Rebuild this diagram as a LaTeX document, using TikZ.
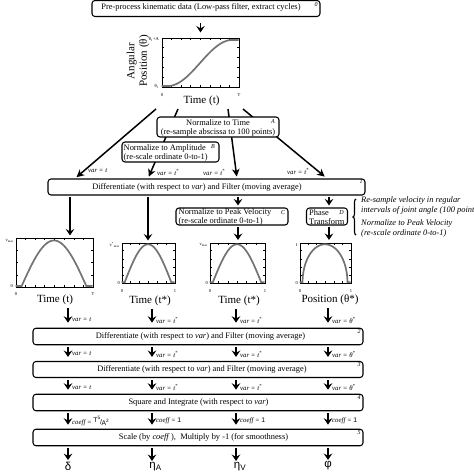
\documentclass[tikz,border=0pt]{standalone}
\usepackage{fontspec}
\setmainfont{Liberation Serif}
\newfontfamily\grsans{Liberation Sans}
\usetikzlibrary{arrows.meta,calc,decorations.pathreplacing}

\tikzset{
  procbox/.style={draw, line width=1.05pt, rounded corners=3pt, fill=white, inner sep=0pt},
  btext/.style={font=\fontsize{8.4}{9}\selectfont, inner sep=0pt},
  tagst/.style={font=\fontsize{6}{6}\selectfont\itshape, inner sep=0pt},
  bigarrow/.style={line width=1.9pt, -{Stealth[length=6.5pt,width=8.5pt,inset=2.4pt]}},
  diagarrow/.style={line width=1.5pt, -{Stealth[length=7.5pt,width=7.5pt,inset=2.2pt]}},
  varlab/.style={font=\fontsize{6.8}{7}\selectfont\itshape, anchor=west, inner sep=0pt},
  plotframe/.style={draw, line width=1pt, inner sep=0pt},
  tickst/.style={line width=0.75pt},
  curvest/.style={draw=black!55, line width=1.7pt},
  ticklab/.style={font=\fontsize{4.5}{5}\selectfont, inner sep=0pt},
  axlab/.style={font=\fontsize{11}{12}\selectfont, inner sep=0pt},
  bracetext/.style={font=\fontsize{8.4}{10}\selectfont\itshape, anchor=west, align=left, inner sep=0pt},
  greek/.style={font=\grsans\fontsize{11.5}{12}\selectfont, inner sep=0pt},
}

\newcommand\myframeticks[3]{%
  \foreach \f in {#2}{%
    \draw[tickst] ($(#1.north west)!\f!(#1.north east)$) -- ++(0,2.5);
    \draw[tickst] ($(#1.south west)!\f!(#1.south east)$) -- ++(0,-2.5);}
  \foreach \f in {#3}{%
    \draw[tickst] ($(#1.north west)!\f!(#1.south west)$) -- ++(2.5,0);
    \draw[tickst] ($(#1.north east)!\f!(#1.south east)$) -- ++(-2.5,0);}
}

\begin{document}
\begin{tikzpicture}[x=1pt,y=-1pt]
\useasboundingbox (0,0) rectangle (474,474);

% column coordinates
\coordinate (c1) at (68,0);
\coordinate (c2) at (152,0);
\coordinate (c3) at (236,0);
\coordinate (c4) at (328,0);
\coordinate (u1) at (70,0);
\coordinate (u2) at (148,0);
\coordinate (u3) at (238,0);
\coordinate (u4) at (329,0);
\coordinate (e1) at (75,0);
\coordinate (e2) at (148,0);
\coordinate (e3) at (237,0);
\coordinate (e4) at (327,0);

% step 0
\node[procbox, minimum width=228pt, minimum height=16pt] (b0) at (206,8.5) {};
\node[btext] (b0t) at (201,7.5) {Pre-process kinematic data (Low-pass filter, extract cycles)};
\node[tagst] (b0g) at (316,5) {0};

% angular position plot
\node[plotframe, minimum width=77pt, minimum height=49pt] (p0) at (200.5,62.5) {};
\myframeticks{p0}{0.125,0.25,0.375,0.5,0.625,0.75,0.875}{0.2,0.4,0.6,0.8}
\begin{scope}[shift={(p0.south west)}, x=77pt, y=49pt]
  \draw[curvest] (0,0.03) -- (0.08,0.03) -- plot[domain=0.08:0.92, samples=50] (\x,{0.03+0.94*(1-cos(180*(\x-0.08)/0.84))/2}) -- (1,0.97);
\end{scope}
\node[ticklab, anchor=east] (p0l1) at (159,39.5) {θ\textsubscript{1}+A};
\node[ticklab, anchor=east] (p0l2) at (159,86) {θ\textsubscript{1}};
\node[ticklab] (p0x1) at (162,95) {0};
\node[ticklab] (p0x2) at (239,95) {T};
\node[axlab] (p0x) at (201.5,101) {Time (t)};
\node[axlab, rotate=90, align=center, font=\fontsize{11}{12.5}\selectfont] (p0y) at (138,61) {Angular\\Position (θ)};

\draw[bigarrow, shorten <=6pt, shorten >=5pt] (b0.south -| p0.north) -- (p0.north);

% step 1 box
\node[procbox, minimum width=317pt, minimum height=16pt] (b1) at (206.5,187) {};
\node[btext] (b1t) at (197,187) {Differentiate (with respect to \textit{var}) and Filter (moving average)};
\node[tagst] (b1g) at (361,182) {1};

% fan of arrows from the position curve
\coordinate (s1) at (156,109);
\coordinate (s2) at (178,109);
\coordinate (s3) at (228,109);
\coordinate (s4) at (243,109);
\draw[diagarrow, shorten >=2pt] (s1) -- (b1.north -| e1);
\draw[diagarrow, shorten >=2pt] (s2) -- (b1.north -| e2);
\draw[diagarrow, shorten >=2pt] (s3) -- (b1.north -| e3);
\draw[diagarrow, shorten >=3pt] (s4) -- (b1.north -| e4);

% box A
\node[procbox, minimum width=122pt, minimum height=20pt] (bA) at (218,127) {};
\node[btext, align=center] (bAt) at (218,127.5) {Normalize to Time\\(re-sample abscissa to 100 points)};
\node[tagst] (bAg) at (273,122) {A};

% box B
\node[procbox, minimum width=97pt, minimum height=20pt] (bB) at (170.5,152) {};
\node[btext, align=left, anchor=west] (bBt) at (123.5,152.5) {Normalize to Amplitude\\(re-scale ordinate 0-to-1)};
\node[tagst] (bBg) at (213,147) {B};

\node[varlab] (v01) at (88,171) {var = t};
\node[varlab] (v02) at (157,172) {var = t\textsuperscript{*}};
\node[varlab] (v03) at (203,172) {var = t\textsuperscript{*}};
\node[varlab] (v04) at (287,171) {var = t\textsuperscript{*}};

% box C and D
\node[procbox, minimum width=112pt, minimum height=17pt] (bC) at (232,216.5) {};
\node[btext, align=left, anchor=west] (bCt) at (178.5,217) {Normalize to Peak Velocity \\(re-scale ordinate 0-to-1)};
\node[tagst] (bCg) at (283,213) {C};
\node[procbox, minimum width=41pt, minimum height=17pt] (bD) at (327,216.5) {};
\node[btext, align=left, anchor=west] (bDt) at (309,217) {Phase\\Transform};
\node[tagst] (bDg) at (341.5,213) {D};

% brace and note
\draw[decorate, decoration={brace, amplitude=3pt}, line width=1.1pt] (356,235) -- (356,199) coordinate (brtop);
\node[bracetext] (n1) at (361,205) {Re-sample velocity in regular\\intervals of joint angle (100 points)};
\node[bracetext] (n2) at (361,228.5) {Normalize to Peak Velocity\\(re-scale ordinate 0-to-1)};

% plots row
\node[plotframe, minimum width=77pt, minimum height=49pt] (pa) at (54.5,262.5) {};
\node[plotframe, minimum width=53pt, minimum height=40pt] (pb) at (148.5,263) {};
\node[plotframe, minimum width=55pt, minimum height=40pt] (pc) at (237.5,263) {};
\node[plotframe, minimum width=51pt, minimum height=40pt] (pd) at (325.5,263) {};
\myframeticks{pa}{0.125,0.25,0.375,0.5,0.625,0.75,0.875}{0.25,0.5,0.75}
\myframeticks{pb}{0.1667,0.3333,0.5,0.6667,0.8333}{0.2,0.4,0.6,0.8}
\myframeticks{pc}{0.1667,0.3333,0.5,0.6667,0.8333}{0.2,0.4,0.6,0.8}
\myframeticks{pd}{0.1667,0.3333,0.5,0.6667,0.8333}{0.2,0.4,0.6,0.8}
\begin{scope}[shift={(pa.south west)}, x=77pt, y=49pt]
  \draw[curvest] (0,0.03) -- (0.08,0.03) -- plot[domain=0.08:0.92, samples=50] (\x,{0.03+0.93*sin(180*(\x-0.08)/0.84)}) -- (1,0.03);
\end{scope}
\begin{scope}[shift={(pb.south west)}, x=53pt, y=40pt]
  \draw[curvest] (0,0.03) -- (0.06,0.03) -- plot[domain=0.06:0.94, samples=50] (\x,{0.03+0.95*sin(180*(\x-0.06)/0.88)}) -- (1,0.03);
\end{scope}
\begin{scope}[shift={(pc.south west)}, x=55pt, y=40pt]
  \draw[curvest] (0,0.03) -- (0.06,0.03) -- plot[domain=0.06:0.94, samples=50] (\x,{0.03+0.95*sin(180*(\x-0.06)/0.88)}) -- (1,0.03);
\end{scope}
\begin{scope}[shift={(pd.south west)}, x=51pt, y=40pt]
  \draw[curvest] (0,0.03) -- (0.06,0.03) -- plot[domain=180:0, samples=60] ({0.5+0.44*cos(\x)},{0.03+0.95*sin(\x)}) -- (1,0.03);
\end{scope}

% tick labels
\node[ticklab, anchor=east] (pal1) at (14,241) {v\textsubscript{max}};
\node[ticklab, anchor=east] (pal2) at (13,286) {0};
\node[ticklab] (pax1) at (16,294) {0};
\node[ticklab] (pax2) at (93,294) {T};
\node[ticklab, anchor=east] (pbl1) at (120,245) {v\textsuperscript{*}\textsubscript{max}};
\node[ticklab, anchor=east] (pbl2) at (120,283) {0};
\node[ticklab] (pbx1) at (122,291) {0};
\node[ticklab] (pbx2) at (175,291) {1};
\node[ticklab, anchor=east] (pcl1) at (208,245) {v\textsubscript{max}};
\node[ticklab, anchor=east] (pcl2) at (208,283) {0};
\node[ticklab] (pcx1) at (210,291) {0};
\node[ticklab] (pcx2) at (265,291) {1};
\node[ticklab, anchor=east] (pdl1) at (298,245) {1};
\node[ticklab, anchor=east] (pdl2) at (298,283) {0};
\node[ticklab] (pdx1) at (300,291) {0};
\node[ticklab] (pdx2) at (351,291) {1};

\node[axlab] (xa) at (55,300) {Time (t)};
\node[axlab] (xb) at (150,301) {Time (t*)};
\node[axlab] (xc) at (239,301) {Time (t*)};
\node[axlab] (xd) at (330,300) {Position (θ*)};

% arrows into plots and boxes C, D
\draw[bigarrow, shorten <=1pt, shorten >=2pt] (b1.south -| u1) -- (pa.north -| u1);
\draw[bigarrow, shorten <=1pt, shorten >=2pt] (b1.south -| u2) -- (pb.north -| u2);
\draw[bigarrow, shorten <=1.5pt, shorten >=2pt] (b1.south -| u3) -- (bC.north -| u3);
\draw[bigarrow, shorten <=1.5pt, shorten >=2pt] (b1.south -| u4) -- (bD.north -| u4);
\draw[bigarrow, shorten <=1.5pt, shorten >=2.5pt] (bC.south -| u3) -- (pc.north -| u3);
\draw[bigarrow, shorten <=1.5pt, shorten >=2.5pt] (bD.south -| u4) -- (pd.north -| u4);

% lower boxes
\node[procbox, minimum width=330pt, minimum height=16.5pt] (b2) at (198,336.5) {};
\node[btext] (b2t) at (200.5,336.5) {Differentiate (with respect to \textit{var}) and Filter (moving average)};
\node[tagst] (b2g) at (359,332) {2};
\node[procbox, minimum width=330pt, minimum height=16pt] (b3) at (198,369.5) {};
\node[btext] (b3t) at (202,369.5) {Differentiate (with respect to \textit{var}) and Filter (moving average)};
\node[tagst] (b3g) at (359,365) {3};
\node[procbox, minimum width=330pt, minimum height=16.5pt] (b4) at (198,402.5) {};
\node[btext] (b4t) at (198.5,402.5) {Square and Integrate (with respect to \textit{var})};
\node[tagst] (b4g) at (359,398) {4};
\node[procbox, minimum width=330pt, minimum height=16.5pt] (b5) at (198,437.5) {};
\node[btext] (b5t) at (203.5,437.5) {Scale (by \textit{coeff}\,),\ \ Multiply by -1 (for smoothness)};
\node[tagst] (b5g) at (359,433) {5};

% arrows from plot labels to box 2
\draw[bigarrow, shorten <=3pt, shorten >=5pt] (xa.south -| c1) -- (b2.north -| c1);
\draw[bigarrow, shorten <=3pt, shorten >=5pt] (xb.south -| c2) -- (b2.north -| c2);
\draw[bigarrow, shorten <=3pt, shorten >=5pt] (xc.south -| c3) -- (b2.north -| c3);
\draw[bigarrow, shorten <=3pt, shorten >=5pt] (xd.south -| c4) -- (b2.north -| c4);
\node[varlab] (v11) at (72,320) {var = t};
\node[varlab] (v12) at (156,320) {var = t\textsuperscript{*}};
\node[varlab] (v13) at (240,320) {var = t\textsuperscript{*}};
\node[varlab] (v14) at (332,320) {var = θ\textsuperscript{*}};

% between boxes
\foreach \cc in {c1,c2,c3,c4}{
  \draw[bigarrow, shorten <=2pt, shorten >=4pt] (b2.south -| \cc) -- (b3.north -| \cc);
  \draw[bigarrow, shorten <=2pt, shorten >=4pt] (b3.south -| \cc) -- (b4.north -| \cc);
  \draw[bigarrow, shorten <=2pt, shorten >=4pt] (b4.south -| \cc) -- (b5.north -| \cc);
}
\node[varlab] (v21) at (72,354) {var = t};
\node[varlab] (v22) at (156,354) {var = t\textsuperscript{*}};
\node[varlab] (v23) at (240,354) {var = t\textsuperscript{*}};
\node[varlab] (v24) at (332,354) {var = θ\textsuperscript{*}};
\node[varlab] (v31) at (72,387.5) {var = t};
\node[varlab] (v32) at (156,387.5) {var = t\textsuperscript{*}};
\node[varlab] (v33) at (240,387.5) {var = t\textsuperscript{*}};
\node[varlab] (v34) at (332,387.5) {var = θ\textsuperscript{*}};
\node[varlab] (v41) at (72,421) {coeff = {\upshape\grsans\raisebox{1.8pt}{T\textsuperscript{5}}\kern-0.5pt/\kern-0.5pt\raisebox{-1.8pt}{A\textsuperscript{2}}}};
\node[varlab] (v42) at (156,421) {coeff = {\upshape\grsans 1}};
\node[varlab] (v43) at (240,421) {coeff = {\upshape\grsans 1}};
\node[varlab] (v44) at (332,421) {coeff = {\upshape\grsans 1}};

% results
\node[greek] (g1) at (68,466) {δ};
\node[greek] (g2) at (155.5,467) {η\textsubscript{A}};
\node[greek] (g3) at (240,467) {η\textsubscript{V}};
\node[greek] (g4) at (328,466) {φ};
\draw[bigarrow, shorten <=2pt, shorten >=1.5pt] (b5.south -| c1) -- (g1.north -| c1);
\draw[bigarrow, shorten <=2pt, shorten >=1.5pt] (b5.south -| c2) -- (g2.north -| c2);
\draw[bigarrow, shorten <=2pt, shorten >=1.5pt] (b5.south -| c3) -- (g3.north -| c3);
\draw[bigarrow, shorten <=2pt, shorten >=1.5pt] (b5.south -| c4) -- (g4.north -| c4);
\end{tikzpicture}
\end{document}
